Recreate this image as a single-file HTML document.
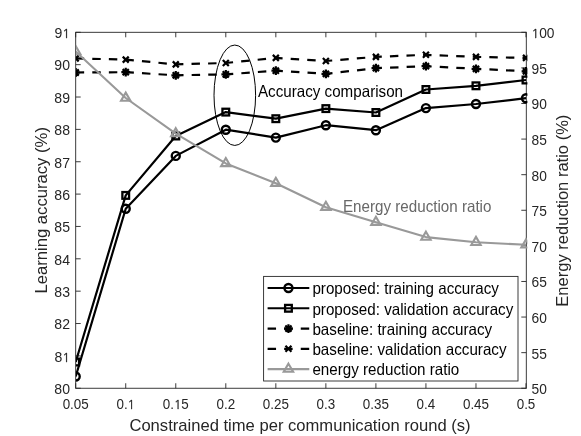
<!DOCTYPE html><html><head><meta charset="utf-8"><style>html,body{margin:0;padding:0;background:#fff}svg{display:block}text{font-family:"Liberation Sans",Arial,sans-serif;fill:#262626}.k{fill:#000}.n{font-family:NanumGothic,"Liberation Sans",sans-serif;font-size:0.908em;stroke:#262626;stroke-width:0.3px}.t{fill:#262626}</style></head><body>
<svg width="581" height="436" viewBox="0 0 581 436">
<rect width="581" height="436" fill="#fff"/>
<defs><clipPath id="c"><rect x="75.90" y="32.3" width="451.50" height="355.95"/></clipPath></defs>
<g stroke="#262626" stroke-width="0.9" fill="none">
<rect x="75.7" y="32.3" width="450.59999999999997" height="355.95"/>
<path d="M75.70 388.25v-5M75.70 32.3v5"/>
<path d="M125.73 388.25v-5M125.73 32.3v5"/>
<path d="M175.77 388.25v-5M175.77 32.3v5"/>
<path d="M225.80 388.25v-5M225.80 32.3v5"/>
<path d="M275.83 388.25v-5M275.83 32.3v5"/>
<path d="M325.87 388.25v-5M325.87 32.3v5"/>
<path d="M375.90 388.25v-5M375.90 32.3v5"/>
<path d="M425.93 388.25v-5M425.93 32.3v5"/>
<path d="M475.97 388.25v-5M475.97 32.3v5"/>
<path d="M526.00 388.25v-5M526.00 32.3v5"/>
<path d="M75.7 388.25h5"/>
<path d="M75.7 355.89h5"/>
<path d="M75.7 323.53h5"/>
<path d="M75.7 291.17h5"/>
<path d="M75.7 258.81h5"/>
<path d="M75.7 226.45h5"/>
<path d="M75.7 194.10h5"/>
<path d="M75.7 161.74h5"/>
<path d="M75.7 129.38h5"/>
<path d="M75.7 97.02h5"/>
<path d="M75.7 64.66h5"/>
<path d="M75.7 32.30h5"/>
<path d="M526.3 388.25h-5"/>
<path d="M526.3 352.65h-5"/>
<path d="M526.3 317.06h-5"/>
<path d="M526.3 281.47h-5"/>
<path d="M526.3 245.87h-5"/>
<path d="M526.3 210.28h-5"/>
<path d="M526.3 174.68h-5"/>
<path d="M526.3 139.09h-5"/>
<path d="M526.3 103.49h-5"/>
<path d="M526.3 67.89h-5"/>
<path d="M526.3 32.30h-5"/>
</g>
<text transform="translate(75.70,409.0) scale(0.925,1)" font-size="14.5" text-anchor="middle">0.05</text>
<text transform="translate(125.73,409.0) scale(0.925,1)" font-size="14.5" text-anchor="middle">0.<tspan class="n">1</tspan></text>
<text transform="translate(175.77,409.0) scale(0.925,1)" font-size="14.5" text-anchor="middle">0.<tspan class="n">1</tspan>5</text>
<text transform="translate(225.80,409.0) scale(0.925,1)" font-size="14.5" text-anchor="middle">0.2</text>
<text transform="translate(275.83,409.0) scale(0.925,1)" font-size="14.5" text-anchor="middle">0.25</text>
<text transform="translate(325.87,409.0) scale(0.925,1)" font-size="14.5" text-anchor="middle">0.3</text>
<text transform="translate(375.90,409.0) scale(0.925,1)" font-size="14.5" text-anchor="middle">0.35</text>
<text transform="translate(425.93,409.0) scale(0.925,1)" font-size="14.5" text-anchor="middle">0.4</text>
<text transform="translate(475.97,409.0) scale(0.925,1)" font-size="14.5" text-anchor="middle">0.45</text>
<text transform="translate(526.00,409.0) scale(0.925,1)" font-size="14.5" text-anchor="middle">0.5</text>
<text transform="translate(70.0,394.05) scale(0.97,1)" font-size="14.5" text-anchor="end">80</text>
<text transform="translate(70.0,361.69) scale(0.97,1)" font-size="14.5" text-anchor="end">8<tspan class="n">1</tspan></text>
<text transform="translate(70.0,329.33) scale(0.97,1)" font-size="14.5" text-anchor="end">82</text>
<text transform="translate(70.0,296.97) scale(0.97,1)" font-size="14.5" text-anchor="end">83</text>
<text transform="translate(70.0,264.61) scale(0.97,1)" font-size="14.5" text-anchor="end">84</text>
<text transform="translate(70.0,232.25) scale(0.97,1)" font-size="14.5" text-anchor="end">85</text>
<text transform="translate(70.0,199.90) scale(0.97,1)" font-size="14.5" text-anchor="end">86</text>
<text transform="translate(70.0,167.54) scale(0.97,1)" font-size="14.5" text-anchor="end">87</text>
<text transform="translate(70.0,135.18) scale(0.97,1)" font-size="14.5" text-anchor="end">88</text>
<text transform="translate(70.0,102.82) scale(0.97,1)" font-size="14.5" text-anchor="end">89</text>
<text transform="translate(70.0,70.46) scale(0.97,1)" font-size="14.5" text-anchor="end">90</text>
<text transform="translate(70.0,38.10) scale(0.97,1)" font-size="14.5" text-anchor="end">9<tspan class="n">1</tspan></text>
<text transform="translate(531.6,394.25) scale(0.95,1)" font-size="14.5">50</text>
<text transform="translate(531.6,358.65) scale(0.95,1)" font-size="14.5">55</text>
<text transform="translate(531.6,323.06) scale(0.95,1)" font-size="14.5">60</text>
<text transform="translate(531.6,287.47) scale(0.95,1)" font-size="14.5">65</text>
<text transform="translate(531.6,251.87) scale(0.95,1)" font-size="14.5">70</text>
<text transform="translate(531.6,216.28) scale(0.95,1)" font-size="14.5">75</text>
<text transform="translate(531.6,180.68) scale(0.95,1)" font-size="14.5">80</text>
<text transform="translate(531.6,145.09) scale(0.95,1)" font-size="14.5">85</text>
<text transform="translate(531.6,109.49) scale(0.95,1)" font-size="14.5">90</text>
<text transform="translate(531.6,73.89) scale(0.95,1)" font-size="14.5">95</text>
<text transform="translate(531.6,38.30) scale(0.95,1)" font-size="14.5"><tspan class="n">1</tspan>00</text>
<text transform="translate(300.0,430.8) scale(0.9569,1)" font-size="17.35" text-anchor="middle">Constrained time per communication round (s)</text>
<text transform="translate(46.7,210.3) rotate(-90) scale(0.9569,1)" font-size="17.40" text-anchor="middle">Learning accuracy (%)</text>
<text transform="translate(568.2,210.65) rotate(-90) scale(0.9569,1)" font-size="17.28" text-anchor="middle">Energy reduction ratio (%)</text>
<g clip-path="url(#c)">
<polyline points="75.70,376.50 125.73,208.70 175.77,155.90 225.80,129.70 275.83,137.60 325.87,125.20 375.90,130.20 425.93,108.10 475.97,104.00 526.00,98.20" fill="none" stroke="#000" stroke-width="2.2" stroke-linejoin="round"/>
<circle cx="75.70" cy="376.50" r="4.0" fill="none" stroke="#000" stroke-width="2.4"/>
<circle cx="125.73" cy="208.70" r="4.0" fill="none" stroke="#000" stroke-width="2.4"/>
<circle cx="175.77" cy="155.90" r="4.0" fill="none" stroke="#000" stroke-width="2.4"/>
<circle cx="225.80" cy="129.70" r="4.0" fill="none" stroke="#000" stroke-width="2.4"/>
<circle cx="275.83" cy="137.60" r="4.0" fill="none" stroke="#000" stroke-width="2.4"/>
<circle cx="325.87" cy="125.20" r="4.0" fill="none" stroke="#000" stroke-width="2.4"/>
<circle cx="375.90" cy="130.20" r="4.0" fill="none" stroke="#000" stroke-width="2.4"/>
<circle cx="425.93" cy="108.10" r="4.0" fill="none" stroke="#000" stroke-width="2.4"/>
<circle cx="475.97" cy="104.00" r="4.0" fill="none" stroke="#000" stroke-width="2.4"/>
<circle cx="526.00" cy="98.20" r="4.0" fill="none" stroke="#000" stroke-width="2.4"/>
<polyline points="75.70,362.00 125.73,195.40 175.77,136.00 225.80,112.10 275.83,118.70 325.87,108.60 375.90,112.50 425.93,89.50 475.97,85.80 526.00,80.00" fill="none" stroke="#000" stroke-width="2.2" stroke-linejoin="round"/>
<rect x="72.35" y="358.65" width="6.7" height="6.7" fill="none" stroke="#000" stroke-width="2.3"/>
<rect x="122.38" y="192.05" width="6.7" height="6.7" fill="none" stroke="#000" stroke-width="2.3"/>
<rect x="172.42" y="132.65" width="6.7" height="6.7" fill="none" stroke="#000" stroke-width="2.3"/>
<rect x="222.45" y="108.75" width="6.7" height="6.7" fill="none" stroke="#000" stroke-width="2.3"/>
<rect x="272.48" y="115.35" width="6.7" height="6.7" fill="none" stroke="#000" stroke-width="2.3"/>
<rect x="322.52" y="105.25" width="6.7" height="6.7" fill="none" stroke="#000" stroke-width="2.3"/>
<rect x="372.55" y="109.15" width="6.7" height="6.7" fill="none" stroke="#000" stroke-width="2.3"/>
<rect x="422.58" y="86.15" width="6.7" height="6.7" fill="none" stroke="#000" stroke-width="2.3"/>
<rect x="472.62" y="82.45" width="6.7" height="6.7" fill="none" stroke="#000" stroke-width="2.3"/>
<rect x="522.65" y="76.65" width="6.7" height="6.7" fill="none" stroke="#000" stroke-width="2.3"/>
<polyline points="75.70,72.50 125.73,72.20 175.77,75.30 225.80,74.40 275.83,70.70 325.87,73.80 375.90,68.20 425.93,66.20 475.97,68.80 526.00,71.30" fill="none" stroke="#000" stroke-width="2.2" stroke-linejoin="round" stroke-dasharray="8.45 8.13"/>
<path d="M71.30 72.50h8.8M75.70 68.10v8.8M72.60 69.40l6.20 6.20M72.60 75.60l6.20 -6.20" fill="none" stroke="#000" stroke-width="2.2"/>
<path d="M121.33 72.20h8.8M125.73 67.80v8.8M122.63 69.10l6.20 6.20M122.63 75.30l6.20 -6.20" fill="none" stroke="#000" stroke-width="2.2"/>
<path d="M171.37 75.30h8.8M175.77 70.90v8.8M172.67 72.20l6.20 6.20M172.67 78.40l6.20 -6.20" fill="none" stroke="#000" stroke-width="2.2"/>
<path d="M221.40 74.40h8.8M225.80 70.00v8.8M222.70 71.30l6.20 6.20M222.70 77.50l6.20 -6.20" fill="none" stroke="#000" stroke-width="2.2"/>
<path d="M271.43 70.70h8.8M275.83 66.30v8.8M272.73 67.60l6.20 6.20M272.73 73.80l6.20 -6.20" fill="none" stroke="#000" stroke-width="2.2"/>
<path d="M321.47 73.80h8.8M325.87 69.40v8.8M322.77 70.70l6.20 6.20M322.77 76.90l6.20 -6.20" fill="none" stroke="#000" stroke-width="2.2"/>
<path d="M371.50 68.20h8.8M375.90 63.80v8.8M372.80 65.10l6.20 6.20M372.80 71.30l6.20 -6.20" fill="none" stroke="#000" stroke-width="2.2"/>
<path d="M421.53 66.20h8.8M425.93 61.80v8.8M422.83 63.10l6.20 6.20M422.83 69.30l6.20 -6.20" fill="none" stroke="#000" stroke-width="2.2"/>
<path d="M471.57 68.80h8.8M475.97 64.40v8.8M472.87 65.70l6.20 6.20M472.87 71.90l6.20 -6.20" fill="none" stroke="#000" stroke-width="2.2"/>
<path d="M521.60 71.30h8.8M526.00 66.90v8.8M522.90 68.20l6.20 6.20M522.90 74.40l6.20 -6.20" fill="none" stroke="#000" stroke-width="2.2"/>
<polyline points="75.70,58.40 125.73,59.60 175.77,64.40 225.80,63.00 275.83,57.90 325.87,61.00 375.90,56.90 425.93,54.80 475.97,56.90 526.00,57.90" fill="none" stroke="#000" stroke-width="2.2" stroke-linejoin="round" stroke-dasharray="8.45 8.13"/>
<path d="M72.70 55.40l6.0 6.0M72.70 61.40l6.0 -6.0" fill="none" stroke="#000" stroke-width="2.2"/>
<path d="M122.73 56.60l6.0 6.0M122.73 62.60l6.0 -6.0" fill="none" stroke="#000" stroke-width="2.2"/>
<path d="M172.77 61.40l6.0 6.0M172.77 67.40l6.0 -6.0" fill="none" stroke="#000" stroke-width="2.2"/>
<path d="M222.80 60.00l6.0 6.0M222.80 66.00l6.0 -6.0" fill="none" stroke="#000" stroke-width="2.2"/>
<path d="M272.83 54.90l6.0 6.0M272.83 60.90l6.0 -6.0" fill="none" stroke="#000" stroke-width="2.2"/>
<path d="M322.87 58.00l6.0 6.0M322.87 64.00l6.0 -6.0" fill="none" stroke="#000" stroke-width="2.2"/>
<path d="M372.90 53.90l6.0 6.0M372.90 59.90l6.0 -6.0" fill="none" stroke="#000" stroke-width="2.2"/>
<path d="M422.93 51.80l6.0 6.0M422.93 57.80l6.0 -6.0" fill="none" stroke="#000" stroke-width="2.2"/>
<path d="M472.97 53.90l6.0 6.0M472.97 59.90l6.0 -6.0" fill="none" stroke="#000" stroke-width="2.2"/>
<path d="M523.00 54.90l6.0 6.0M523.00 60.90l6.0 -6.0" fill="none" stroke="#000" stroke-width="2.2"/>
<polyline points="75.70,51.50 125.73,98.00 175.77,133.60 225.80,163.40 275.83,183.20 325.87,207.20 375.90,222.20 425.93,237.10 475.97,242.30 526.00,244.80" fill="none" stroke="#999999" stroke-width="2.1" stroke-linejoin="round"/>
<path d="M75.70 46.10L80.40 54.20L71.00 54.20Z" fill="none" stroke="#999999" stroke-width="2.1" stroke-linejoin="miter"/>
<path d="M125.73 92.60L130.43 100.70L121.03 100.70Z" fill="none" stroke="#999999" stroke-width="2.1" stroke-linejoin="miter"/>
<path d="M175.77 128.20L180.47 136.30L171.07 136.30Z" fill="none" stroke="#999999" stroke-width="2.1" stroke-linejoin="miter"/>
<path d="M225.80 158.00L230.50 166.10L221.10 166.10Z" fill="none" stroke="#999999" stroke-width="2.1" stroke-linejoin="miter"/>
<path d="M275.83 177.80L280.53 185.90L271.13 185.90Z" fill="none" stroke="#999999" stroke-width="2.1" stroke-linejoin="miter"/>
<path d="M325.87 201.80L330.57 209.90L321.17 209.90Z" fill="none" stroke="#999999" stroke-width="2.1" stroke-linejoin="miter"/>
<path d="M375.90 216.80L380.60 224.90L371.20 224.90Z" fill="none" stroke="#999999" stroke-width="2.1" stroke-linejoin="miter"/>
<path d="M425.93 231.70L430.63 239.80L421.23 239.80Z" fill="none" stroke="#999999" stroke-width="2.1" stroke-linejoin="miter"/>
<path d="M475.97 236.90L480.67 245.00L471.27 245.00Z" fill="none" stroke="#999999" stroke-width="2.1" stroke-linejoin="miter"/>
<path d="M526.00 239.40L530.70 247.50L521.30 247.50Z" fill="none" stroke="#999999" stroke-width="2.1" stroke-linejoin="miter"/>
</g>
<ellipse cx="234.8" cy="95.25" rx="20.8" ry="50.2" fill="none" stroke="#000" stroke-width="1"/>
<text class="k" transform="translate(258,97.3) scale(0.9302,1)" font-size="16.31">Accuracy comparison</text>
<text transform="translate(343,212.2) scale(0.9302,1)" font-size="16.31" style="fill:#686868">Energy reduction ratio</text>
<rect x="263.6" y="276.4" width="254.4" height="104.6" fill="#fff" stroke="#262626" stroke-width="0.9"/>
<path d="M267.6 288.00H309.3" stroke="#000" stroke-width="2.2" fill="none"/>
<circle cx="288.45" cy="288.00" r="4.0" fill="none" stroke="#000" stroke-width="2.4"/>
<text class="k" transform="translate(312.4,294.30) scale(0.9569,1)" font-size="15.88">proposed: training accuracy</text>
<path d="M267.6 308.27H309.3" stroke="#000" stroke-width="2.2" fill="none"/>
<rect x="285.10" y="304.92" width="6.7" height="6.7" fill="none" stroke="#000" stroke-width="2.3"/>
<text class="k" transform="translate(312.4,314.57) scale(0.9569,1)" font-size="15.88">proposed: validation accuracy</text>
<path d="M267.6 328.54H309.3" stroke="#000" stroke-width="2.2" fill="none" stroke-dasharray="8.45 8.13"/>
<path d="M284.05 328.54h8.8M288.45 324.14v8.8M285.35 325.44l6.20 6.20M285.35 331.64l6.20 -6.20" fill="none" stroke="#000" stroke-width="2.2"/>
<text class="k" transform="translate(312.4,334.84) scale(0.9569,1)" font-size="15.88">baseline: training accuracy</text>
<path d="M267.6 348.81H309.3" stroke="#000" stroke-width="2.2" fill="none" stroke-dasharray="8.45 8.13"/>
<path d="M285.45 345.81l6.0 6.0M285.45 351.81l6.0 -6.0" fill="none" stroke="#000" stroke-width="2.2"/>
<text class="k" transform="translate(312.4,355.11) scale(0.9569,1)" font-size="15.88">baseline: validation accuracy</text>
<path d="M267.6 369.08H309.3" stroke="#999999" stroke-width="2.1" fill="none"/>
<path d="M288.45 363.68L293.15 371.78L283.75 371.78Z" fill="none" stroke="#999999" stroke-width="2.1" stroke-linejoin="miter"/>
<text class="k" transform="translate(312.4,375.38) scale(0.9569,1)" font-size="15.88">energy reduction ratio</text>
</svg></body></html>
